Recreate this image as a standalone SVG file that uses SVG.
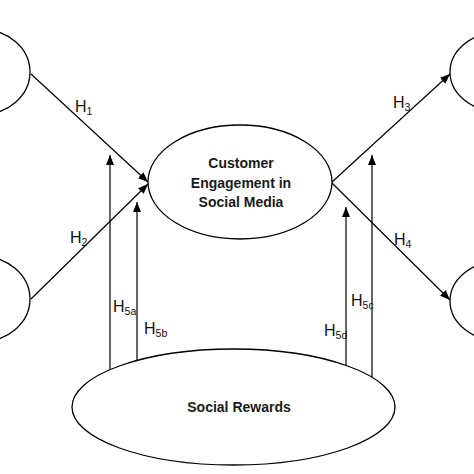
<svg xmlns="http://www.w3.org/2000/svg" width="474" height="474" viewBox="0 0 474 474">
<style>
.n{fill:#fff;stroke:#000;stroke-width:1.3}
.c{stroke:#000;stroke-width:1.2;fill:none}
.t{font-family:"Liberation Sans",Arial,sans-serif;font-weight:bold;font-size:14px;fill:#1a1a1a;text-anchor:middle}
.h{font-family:"Liberation Sans",Arial,sans-serif;font-size:16px;fill:#111}
.s{font-size:10.5px}
</style>
<defs>
<marker id="a" viewBox="0 0 10 8" refX="10" refY="4" markerWidth="10" markerHeight="8" markerUnits="userSpaceOnUse" orient="auto">
<path d="M0,0 L10,4 L0,8 Z" fill="#000"/>
</marker>
</defs>
<g id="connectors">
<line class="c" x1="31" y1="74" x2="148" y2="182" marker-end="url(#a)"/>
<line class="c" x1="31" y1="299" x2="148" y2="184" marker-end="url(#a)"/>
<line class="c" x1="332" y1="182" x2="450" y2="74" marker-end="url(#a)"/>
<line class="c" x1="332" y1="183" x2="450" y2="300" marker-end="url(#a)"/>
<line class="c" x1="110" y1="369" x2="110" y2="155" marker-end="url(#a)"/>
<line class="c" x1="137" y1="361" x2="137" y2="202" marker-end="url(#a)"/>
<line class="c" x1="346" y1="366" x2="346" y2="207" marker-end="url(#a)"/>
<line class="c" x1="372" y1="377" x2="372" y2="155" marker-end="url(#a)"/>
</g>
<g id="labels">
<text class="h" x="75" y="112">H<tspan class="s" dy="3">1</tspan></text>
<text class="h" x="70" y="243">H<tspan class="s" dy="3">2</tspan></text>
<text class="h" x="393" y="108">H<tspan class="s" dy="3">3</tspan></text>
<text class="h" x="394" y="245">H<tspan class="s" dy="3">4</tspan></text>
<text class="h" x="113" y="312">H<tspan class="s" dy="3">5a</tspan></text>
<text class="h" x="144" y="334">H<tspan class="s" dy="3">5b</tspan></text>
<text class="h" x="351" y="306">H<tspan class="s" dy="3">5c</tspan></text>
<text class="h" x="324" y="336">H<tspan class="s" dy="3">5d</tspan></text>
</g>
<g id="left-top"><ellipse class="n" cx="-20" cy="72" rx="50" ry="43"/></g>
<g id="left-bottom"><ellipse class="n" cx="-20" cy="299" rx="50" ry="43"/></g>
<g id="right-top"><ellipse class="n" cx="500" cy="72" rx="50" ry="40"/></g>
<g id="right-bottom"><ellipse class="n" cx="500" cy="301" rx="50" ry="40"/></g>
<g id="engagement">
<ellipse class="n" cx="240" cy="182" rx="92" ry="57"/>
<text class="t" x="241" y="168">Customer</text>
<text class="t" x="241" y="188">Engagement in</text>
<text class="t" x="241" y="207">Social Media</text>
</g>
<g id="rewards">
<ellipse class="n" cx="233.5" cy="407" rx="161.5" ry="58"/>
<text class="t" x="239" y="412">Social Rewards</text>
</g>
</svg>
